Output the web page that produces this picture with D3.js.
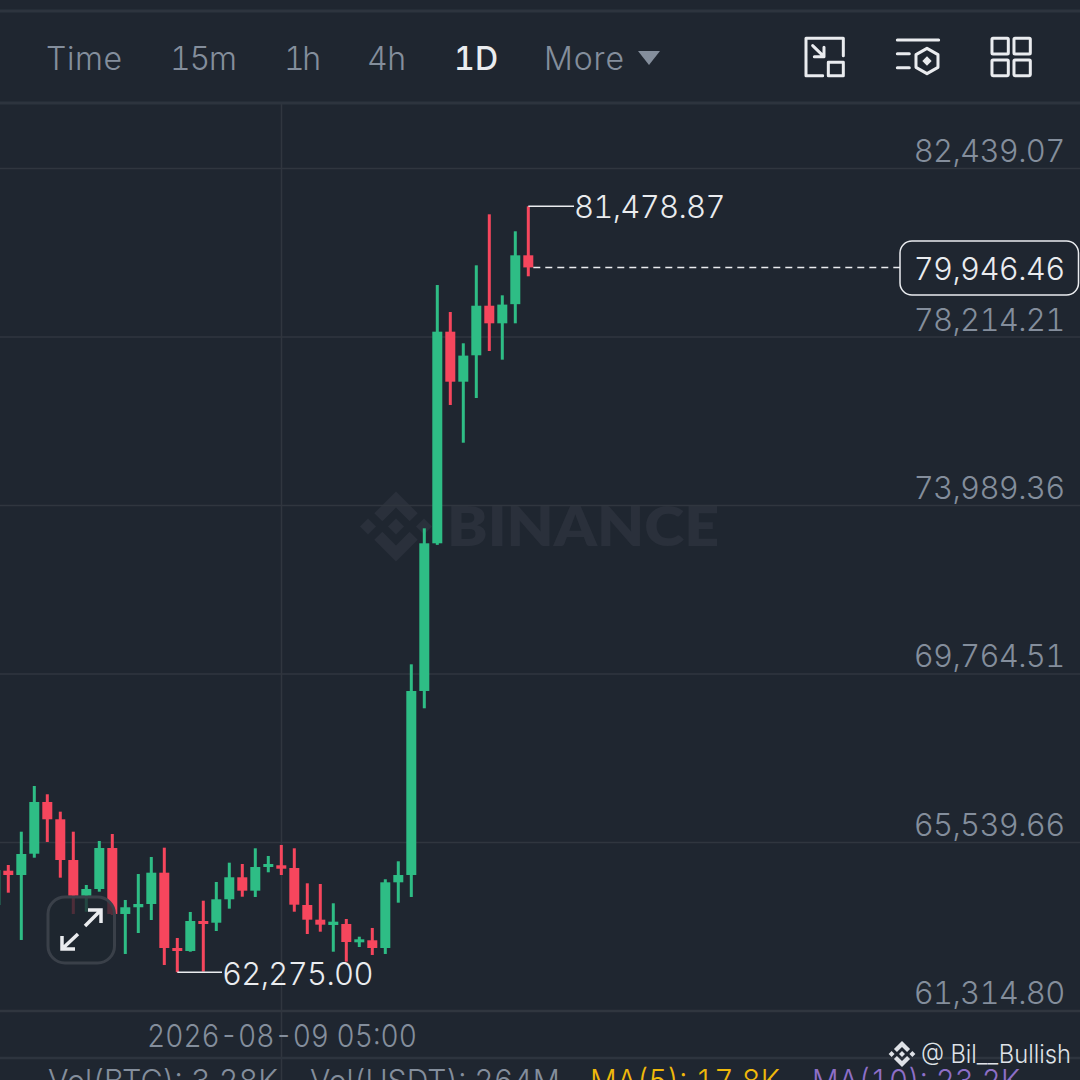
<!DOCTYPE html>
<html><head><meta charset="utf-8">
<style>html,body{margin:0;padding:0;background:#1f2630;overflow:hidden}svg{display:block}text{font-family:"Inter","Noto Sans",sans-serif;font-variant-numeric:tabular-nums;font-weight:300}.num{letter-spacing:-.7px}</style>
<script src="https://cdn.jsdelivr.net/npm/d3@7/dist/d3.min.js"></script>
</head><body><svg id="c" width="1080" height="1080"></svg>
<script>
const opens  =[63960,64820,64712,65246,66543,66109,65088,64193,64361,65389,63735,63903,63985,64770,62882,62807,63559,63516,64103,64655,64319,64913,64956,64888,63960,63592,63459,63484,63032,63075,62882,64529,64712,69326,73029,78335,77081,77743,78986,78545,79025,80250];
const closes =[64838,64712,65239,66543,66109,65088,64193,64361,65389,63735,63903,63985,64770,62882,62807,63559,63484,64103,64655,64319,64913,64988,64870,63968,63592,63467,63542,63032,63100,62882,64529,64712,69326,73029,78335,77081,77735,78986,78545,79014,80250,79946.46];
const highs  =[64888,64963,65798,66944,66736,66300,65798,64462,65565,65740,64086,64737,65164,65397,63133,63785,64068,64537,65021,64988,65382,65189,65465,65382,64504,64487,64003,63609,63165,63384,64605,65056,69995,73405,79505,78828,78044,79999,81278,79247,80852,81478.87];
const lows   =[63910,64269,63083,65146,65540,64645,63735,63792,64294,63710,62732,63258,63584,62456,62275,62789,62290,63308,63868,64168,64161,64780,64712,63792,63233,63291,62789,62539,62907,62707,62732,64018,64161,68892,72990,76497,75551,76672,77851,77633,78545,79724];
const priceTicks=[82439.07,78214.21,73989.36,69764.51,65539.66,61314.80];
const timeframes=["Time","15m","1h","4h","1D","More"];
const volumeLabels=["Vol(BTC): 3.28K","Vol(USDT): 264M","MA(5): 17.8K","MA(10): 23.2K"];
const crossTime="2026-08-09 05:00", highLabel=81478.87, lowLabel=62275.00, lastPrice=79946.46;

const BG="#1f2630",GRID="#30363f",MUTED="#848e9c",WHITE="#eaecef",UP="#2ebd85",DOWN="#f6465d";
const svg=d3.select("#c");
const fmt=d3.format(",.2f");
const x=d3.scaleLinear().domain([0,opens.length-1]).range([-4.7,528.3]);
const y=d3.scaleLinear().domain([priceTicks[5],priceTicks[0]]).range([1010.5,168]);
svg.append("rect").attr("width",1080).attr("height",1080).attr("fill",BG);

// watermark
const wm=svg.append("g").attr("fill","#2a303b");
const lg=wm.append("g").attr("transform","translate(396,526.5) scale(35)");
const logo=[[[0,-.23],[.23,0],[0,.23],[-.23,0]],[[-.8,-.23],[-.57,0],[-.8,.23],[-1.03,0]],[[.8,-.23],[1.03,0],[.8,.23],[.57,0]],
 [[0,-1],[.62,-.38],[.39,-.15],[0,-.54],[-.39,-.15],[-.62,-.38]],[[0,1],[.62,.38],[.39,.15],[0,.54],[-.39,.15],[-.62,.38]]];
lg.selectAll("path").data(logo).join("path").attr("d",d=>d3.line()(d)+"Z");
wm.append("text").attr("x",447).attr("y",546).attr("font-size",54).attr("textLength",272).attr("lengthAdjust","spacingAndGlyphs").style("font-family","Lato, Inter").style("font-weight",800).text("BINANCE");

// crosshair + chrome lines
svg.append("line").attr("x1",281.5).attr("x2",281.5).attr("y1",104).attr("y2",1080).attr("stroke",GRID).attr("stroke-width",1.5);
[[11,3],[103,3],[1058,2.5]].forEach(([v,w])=>svg.append("line").attr("x1",0).attr("x2",1080).attr("y1",v).attr("y2",v).attr("stroke","#2d343e").attr("stroke-width",w));

// price axis
const ax=svg.append("g").attr("transform","translate(1080,0)")
 .call(d3.axisLeft(y).tickValues(priceTicks).tickSize(1080).tickFormat(fmt));
ax.select(".domain").remove();
ax.selectAll("line").attr("stroke",GRID).attr("stroke-width",(d,i)=>i==5?2.5:1.5);
ax.selectAll("text").attr("class","num").attr("x",-15.5).attr("dy",-6.5).attr("fill",MUTED).attr("font-size",31).attr("text-anchor","end");
ax.selectAll(".tick text").attr("transform",(d,i)=>`translate(0,${i==5?-1:0})`);

// candles
const idx=d3.range(opens.length);
const col=i=>closes[i]>=opens[i]?UP:DOWN;
const cg=svg.append("g");
cg.selectAll("rect.w").data(idx).join("rect").attr("class","w").attr("x",i=>x(i)-1.5).attr("width",3)
 .attr("y",i=>y(highs[i])).attr("height",i=>y(lows[i])-y(highs[i])).attr("fill",col);
cg.selectAll("rect.b").data(idx).join("rect").attr("class","b").attr("x",i=>x(i)-5).attr("width",10)
 .attr("y",i=>y(Math.max(opens[i],closes[i]))).attr("height",i=>Math.max(3,y(Math.min(opens[i],closes[i]))-y(Math.max(opens[i],closes[i])))).attr("fill",col);

// annotations
const hiX=x(lows.length-1), loX=x(lows.indexOf(lowLabel));
svg.append("path").attr("d",`M${hiX},${y(highLabel)}H574`).attr("stroke",WHITE).attr("stroke-width",1.5).attr("fill","none");
svg.append("path").attr("d",`M${loX},${y(lowLabel)}H222`).attr("stroke",WHITE).attr("stroke-width",1.5).attr("fill","none");
svg.append("text").attr("class","num").attr("x",574).attr("y",218).attr("fill",WHITE).attr("font-size",31).text(fmt(highLabel));
svg.append("text").attr("class","num").attr("x",222).attr("y",985).attr("fill",WHITE).attr("font-size",31).text(fmt(lowLabel));
svg.append("line").attr("x1",hiX+5).attr("x2",900).attr("y1",y(lastPrice)).attr("y2",y(lastPrice)).attr("stroke",WHITE).attr("stroke-width",1.5).attr("stroke-dasharray","7,5");
svg.append("rect").attr("x",900).attr("y",241).attr("width",178.5).attr("height",54).attr("rx",12).attr("fill",BG).attr("stroke",WHITE).attr("stroke-width",1.5);
svg.append("text").attr("class","num").attr("x",1064.5).attr("y",279.5).attr("text-anchor","end").attr("fill",WHITE).attr("font-size",31).text(fmt(lastPrice));

// expand button
svg.append("rect").attr("x",48).attr("y",897).attr("width",66.5).attr("height",66).attr("rx",17).attr("fill",BG).attr("fill-opacity",.78).attr("stroke","#3a4049").attr("stroke-width",3);
svg.append("path").attr("d","M85,926L101,910M88,910H101V923M78,934L62,949M62,936V949H75").attr("fill","none").attr("stroke",WHITE).attr("stroke-width",3.5);

// header
const tfX=[46,170,284,367,454,544],tfW=[76,67,37,39,44,80];
svg.append("g").selectAll("text").data(timeframes).join("text").attr("x",(d,i)=>tfX[i]).attr("y",70).attr("font-size",32)
 .attr("textLength",(d,i)=>tfW[i]).attr("fill",d=>d=="1D"?WHITE:MUTED).style("font-weight",d=>d=="1D"?500:300).text(d=>d);
svg.append("path").attr("d","M638,51H660L649,65Z").attr("fill",MUTED);
const ic=svg.append("g").attr("transform","translate(780,10) scale(.3333)").attr("fill","none").attr("stroke",WHITE).attr("stroke-width",9).attr("stroke-linejoin","round").attr("stroke-linecap","round");
ic.append("path").attr("d","M128,197H78V85H190V137M98,107L132,140M132,112V140H103");
ic.append("rect").attr("x",145).attr("y",157).attr("width",45).attr("height",40);
ic.append("path").attr("d","M352,90H476M352,131H388M352,173H388M441,115L474,134V172L441,191L408,172V134Z");
ic.append("path").attr("d","M441,139L455,153L441,167L427,153Z").attr("fill",WHITE).attr("stroke","none");
[[636,85],[702,85],[636,150],[702,150]].forEach(([a,b])=>ic.append("rect").attr("x",a).attr("y",b).attr("width",49).attr("height",47).attr("rx",3));

// footer
svg.append("text").attr("x",147).attr("y",1047).attr("fill",MUTED).attr("font-size",31).attr("textLength",270).attr("lengthAdjust","spacingAndGlyphs").text(crossTime);
const volX=[48,310,590,812],volW=[230,250,190,208],volC=[MUTED,MUTED,"#f0b90b","#8e6fc7"];
svg.append("g").selectAll("text").data(volumeLabels).join("text").attr("x",(d,i)=>volX[i]).attr("y",1092).attr("font-size",31).attr("textLength",(d,i)=>volW[i]).attr("lengthAdjust","spacingAndGlyphs").attr("fill",(d,i)=>volC[i]).text(d=>d);
const lg2=svg.append("g").attr("transform","translate(902,1054) scale(13)").attr("fill","#dfe2e7");
lg2.selectAll("path").data(logo).join("path").attr("d",d=>d3.line()(d)+"Z");
svg.append("text").attr("x",921).attr("y",1063).attr("fill","#dfe2e7").attr("font-size",25).attr("textLength",150).attr("lengthAdjust","spacingAndGlyphs").text("@ Bil__Bullish");
</script></body></html>
